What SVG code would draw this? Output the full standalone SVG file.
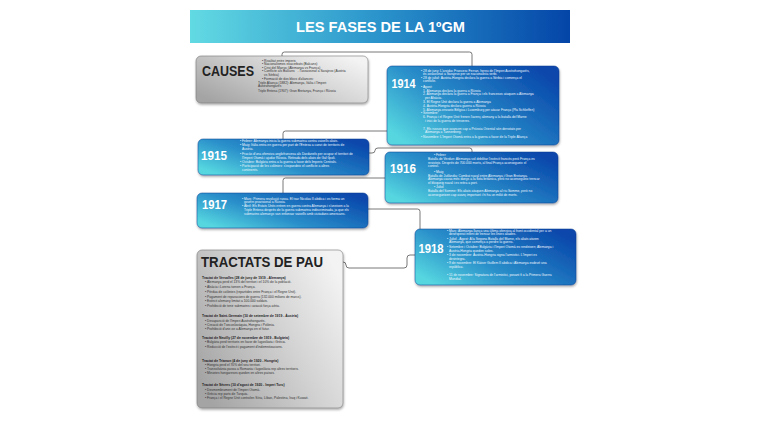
<svg xmlns="http://www.w3.org/2000/svg" width="768" height="431" viewBox="0 0 768 431">
<defs>
<linearGradient id="gTitle" x1="0" y1="0" x2="1" y2="0">
<stop offset="0" stop-color="#62dae3"/><stop offset="0.5" stop-color="#2a93cb"/><stop offset="1" stop-color="#0445a8"/>
</linearGradient>
<linearGradient id="gBlue" x1="0" y1="0.8" x2="1" y2="0.2">
<stop offset="0" stop-color="#56d7e0"/><stop offset="0.4" stop-color="#2a8fca"/><stop offset="1" stop-color="#0846ab"/>
</linearGradient>
<linearGradient id="gGray" x1="0" y1="0.8" x2="1" y2="0.2">
<stop offset="0" stop-color="#a4a4a4"/><stop offset="0.55" stop-color="#d2d2d2"/><stop offset="1" stop-color="#f3f3f3"/>
</linearGradient>
<filter id="sh" x="-10%" y="-10%" width="120%" height="130%">
<feDropShadow dx="0.5" dy="1.5" stdDeviation="1" flood-color="#000" flood-opacity="0.35"/>
</filter>
</defs>
<style>
.box{filter:url(#sh)}
.bb{fill:url(#gBlue);stroke:#0b3f92;stroke-width:0.5}
.gb{fill:url(#gGray);stroke:#7a7a7a;stroke-width:0.6}
.yr{font-family:"Liberation Sans",Arial,sans-serif;font-weight:bold;font-size:13px;fill:#fff}
.hd{font-family:"Liberation Sans",Arial,sans-serif;font-weight:bold;font-size:14px;fill:#222}
.w{font-family:"Liberation Sans",Arial,sans-serif;font-size:3.3px;fill:#eef6ff}
.k{font-family:"Liberation Sans",Arial,sans-serif;font-size:3.3px;fill:#333}
.kb{font-family:"Liberation Sans",Arial,sans-serif;font-size:3.4px;font-weight:bold;fill:#222}
.con{fill:none;stroke:#555;stroke-width:0.8}
</style>
<rect width="768" height="431" fill="#fff"/>

<g id="title">
<rect x="190" y="10" width="380" height="33" fill="url(#gTitle)"/>
<text x="380.5" y="32" text-anchor="middle" font-family="'Liberation Sans',Arial,sans-serif" font-weight="bold" font-size="15" fill="#fff" textLength="169" lengthAdjust="spacingAndGlyphs">LES FASES DE LA 1ºGM</text>
</g>

<g id="connectors">
<path class="con" d="M282,56 V54.5 Q282,52 284.5,52 H469.5 Q472,52 472,54.5 V66"/>
<path class="con" d="M387,131 H285.5 Q283,131 283,133.5 V139"/>
<path class="con" d="M369,153 H372 Q375,153 375,150.5 Q375,148 378,148 H469.5 Q472,148 472,150.5 V152"/>
<path class="con" d="M385,178 H285.5 Q283,178 283,180.5 V193"/>
<path class="con" d="M368,209 H417.5 Q420,209 420,211.5 V229"/>
<path class="con" d="M343,262 Q346,262 346,265 Q346,268 349,268 H404 Q407,268 407,265 V258 Q407,255 410,255 H415"/>
</g>

<g id="causes">
<rect class="box gb" x="196" y="56" width="172" height="47" rx="5"/>
<text class="hd" x="202" y="76" textLength="52" lengthAdjust="spacingAndGlyphs">CAUSES</text>
<text class="k" x="262" y="61.5">• Rivalitat entre imperis</text>
<text class="k" x="262" y="65">• Nacionalismes exacerbats (Balcans)</text>
<text class="k" x="262" y="68.5">• Crisi del Marroc (Alemanya vs França)</text>
<text class="k" x="262" y="72.3">• Conflicte als Balcans → l'assassinat a Sarajevo (Àustria</text>
<text class="k" x="264" y="75.8">vs Sèrbia)</text>
<text class="k" x="262" y="79.8">• Formació de dos blocs d'aliances:</text>
<text class="k" x="258" y="83.5">Triple Aliança (1882): Alemanya, Itàlia i l'Imperi</text>
<text class="k" x="258" y="87">Austrohongarès</text>
<text class="k" x="258" y="92">Triple Entesa (1907): Gran Bretanya, França i Rússia</text>
</g>

<g id="n1914">
<rect class="box bb" x="387" y="66" width="172" height="79" rx="5"/>
<text class="yr" x="391.5" y="88" textLength="24" lengthAdjust="spacingAndGlyphs">1914</text>
<text class="w" x="421" y="71.5">• 28 de juny: L'arxiduc Francesc Ferran, hereu de l'Imperi Austrohongarès,</text>
<text class="w" x="423" y="75">és assassinat a Sarajevo per un nacionalista serbi.</text>
<text class="w" x="421" y="78.7">• 28 de juliol: Àustria-Hongria declara la guerra a Sèrbia i comença el</text>
<text class="w" x="423" y="82.2">conflicte.</text>
<text class="w" x="421" y="88">• Agost:</text>
<text class="w" x="423" y="91.5">1. Alemanya declara la guerra a Rússia</text>
<text class="w" x="423" y="95.3">2. Alemanya declara la guerra a França i els francesos ataquen a Alemanya</text>
<text class="w" x="425" y="98.8">per Alsàcia.</text>
<text class="w" x="423" y="103">3. El Regne Unit declara la guerra a Alemanya</text>
<text class="w" x="423" y="106.8">4. Àustria-Hongria declara guerra a Rússia</text>
<text class="w" x="423" y="110.6">5. Alemanya envaeix Bèlgica i Luxemburg per atacar França (Pla Schlieffen)</text>
<text class="w" x="421" y="114.3">• Setembre:</text>
<text class="w" x="423" y="118">6. França i el Regne Unit frenen l'avenç alemany a la batalla del Marne</text>
<text class="w" x="425" y="121.5">i inici de la guerra de trinxeres.</text>
<text class="w" x="423" y="129.5">7. Els russos que avancen cap a Prússia Oriental són derrotats per</text>
<text class="w" x="425" y="133">Alemanya a Tannenberg.</text>
<text class="w" x="421" y="137.8">• Novembre: L'Imperi Otomà entra a la guerra a favor de la Triple Aliança</text>
</g>

<g id="n1915">
<rect class="box bb" x="198" y="139" width="171" height="36" rx="5"/>
<text class="yr" x="201" y="160" textLength="26" lengthAdjust="spacingAndGlyphs">1915</text>
<text class="w" x="240" y="141.8">• Febrer: Alemanya inicia la guerra submarina contra vaixells aliats.</text>
<text class="w" x="240" y="145.6">• Maig: Itàlia entra en guerra per part de l'Entesa a canvi de territoris de</text>
<text class="w" x="242" y="149.5">Àustria.</text>
<text class="w" x="240" y="154.5">• Fracàs d'una ofensiva anglofrancesa als Dardanels per ocupar el territori de</text>
<text class="w" x="242" y="158.5">l'Imperi Otomà i ajudar Rússia. Retirada dels aliats de Gal·lípoli.</text>
<text class="w" x="240" y="163">• Octubre: Bulgària entra a la guerra a favor dels Imperis Centrals.</text>
<text class="w" x="240" y="167">• Participació de les colònies: s'expandeix el conflicte a altres</text>
<text class="w" x="242" y="171.2">continents.</text>
</g>

<g id="n1916">
<rect class="box bb" x="385" y="152" width="173" height="51" rx="5"/>
<text class="yr" x="390" y="172.5" textLength="26" lengthAdjust="spacingAndGlyphs">1916</text>
<text class="w" x="434" y="156">• Febrer</text>
<text class="w" x="428" y="160">Batalla de Verdun: Alemanya vol debilitar l'exèrcit francès però França es</text>
<text class="w" x="428" y="163.5">resisteix. Després de 700.000 morts, al final França aconsegueix el</text>
<text class="w" x="428" y="167">control.</text>
<text class="w" x="434" y="172.7">• Maig</text>
<text class="w" x="428" y="176.7">Batalla de Jutlàndia: Combat naval entre Alemanya i Gran Bretanya.</text>
<text class="w" x="428" y="180.3">Alemanya causa més danys a la flota britànica, però no aconsegueix trencar</text>
<text class="w" x="428" y="184">el bloqueig naval i es retira a port.</text>
<text class="w" x="434" y="187.8">• Juliol</text>
<text class="w" x="428" y="191.7">Batalla del Somme: Els aliats ataquen Alemanya al riu Somme, però no</text>
<text class="w" x="428" y="195.6">aconsegueixen cap avanç important i hi ha un milió de morts.</text>
</g>

<g id="n1917">
<rect class="box bb" x="197" y="193" width="171" height="35" rx="5"/>
<text class="yr" x="202" y="208.7" textLength="25" lengthAdjust="spacingAndGlyphs">1917</text>
<text class="w" x="242" y="199.5">• Març: Primera revolució russa. El tsar Nicolau II abdica i es forma un</text>
<text class="w" x="244" y="203.2">govern provisional a Rússia.</text>
<text class="w" x="242" y="207.4">• Abril: Els Estats Units entren en guerra contra Alemanya i s'uneixen a la</text>
<text class="w" x="244" y="211.2">Triple Entesa després de la guerra submarina indiscriminada, ja que els</text>
<text class="w" x="244" y="215">submarins alemanys van enfonsar vaixells amb ciutadans americans.</text>
</g>

<g id="n1918">
<rect class="box bb" x="415" y="229" width="161" height="56" rx="5"/>
<text class="yr" x="418.5" y="252.5" textLength="25" lengthAdjust="spacingAndGlyphs">1918</text>
<text class="w" x="447" y="231.5">• Març: Alemanya llança una última ofensiva al front occidental per a un</text>
<text class="w" x="449" y="235.2">desesperat intent de trencar les línies aliades.</text>
<text class="w" x="447" y="239.6">• Juliol - Agost: A la Segona Batalla del Marne, els aliats aturen</text>
<text class="w" x="449" y="243.3">Alemanya, que comença a perdre la guerra.</text>
<text class="w" x="447" y="247.8">• Setembre i Octubre: Bulgària i l'Imperi Otomà es rendeixen; Alemanya i</text>
<text class="w" x="449" y="251.5">Àustria-Hongria queden soles.</text>
<text class="w" x="447" y="256">• 3 de novembre: Àustria-Hongria signa l'armistici. L'Imperi es</text>
<text class="w" x="449" y="259.7">desintegra.</text>
<text class="w" x="447" y="264.2">• 9 de novembre: El Kàiser Guillem II abdica i Alemanya esdevé una</text>
<text class="w" x="449" y="267.9">república.</text>
<text class="w" x="447" y="276.4">• 11 de novembre: Signatura de l'armistici, posant fi a la Primera Guerra</text>
<text class="w" x="449" y="280.1">Mundial.</text>
</g>

<g id="tractats">
<rect class="box gb" x="197" y="250" width="146" height="158" rx="5"/>
<text class="hd" x="201" y="267" textLength="122" lengthAdjust="spacingAndGlyphs">TRACTATS DE PAU</text>
<text class="kb" x="202" y="278.5">Tractat de Versalles (28 de juny de 1919 - Alemanya)</text>
<text class="k" x="205" y="283.2">• Alemanya perd el 13% del territori i el 10% de la població.</text>
<text class="k" x="205" y="288">• Alsàcia i Lorena tornen a França.</text>
<text class="k" x="205" y="292.8">• Pèrdua de colònies (repartides entre França i el Regne Unit).</text>
<text class="k" x="205" y="297.6">• Pagament de reparacions de guerra (132.000 milions de marcs).</text>
<text class="k" x="205" y="302.4">• Exèrcit alemany limitat a 100.000 soldats.</text>
<text class="k" x="205" y="307.2">• Prohibició de tenir submarins i aviació força aèria.</text>
<text class="kb" x="202" y="317.3">Tractat de Saint-Germain (10 de setembre de 1919 - Àustria)</text>
<text class="k" x="205" y="321.7">• Desaparició de l'Imperi Austrohongarès.</text>
<text class="k" x="205" y="325.8">• Creació de Txecoslovàquia, Hongria i Polònia.</text>
<text class="k" x="205" y="330">• Prohibició d'unir-se a Alemanya en el futur.</text>
<text class="kb" x="202" y="339.3">Tractat de Neuilly (27 de novembre de 1919 - Bulgària)</text>
<text class="k" x="205" y="343.4">• Bulgària perd territoris en favor de Iugoslàvia i Grècia.</text>
<text class="k" x="205" y="347.5">• Reducció de l'exèrcit i pagament d'indemnitzacions.</text>
<text class="kb" x="202" y="361.7">Tractat de Trianon (4 de juny de 1920 - Hongria)</text>
<text class="k" x="205" y="366">• Hongria perd el 70% del seu territori.</text>
<text class="k" x="205" y="370.1">• Transsilvània passa a Romania i Iugoslàvia rep altres territoris.</text>
<text class="k" x="205" y="374.3">• Minories hongareses queden en altres països.</text>
<text class="kb" x="202" y="386">Tractat de Sèvres (10 d'agost de 1920 - Imperi Turc)</text>
<text class="k" x="205" y="390.5">• Desmembrament de l'Imperi Otomà.</text>
<text class="k" x="205" y="394.5">• Grècia rep parts de Turquia.</text>
<text class="k" x="205" y="398.5">• França i el Regne Unit controlen Síria, Líban, Palestina, Iraq i Kuwait.</text>
</g>
</svg>
